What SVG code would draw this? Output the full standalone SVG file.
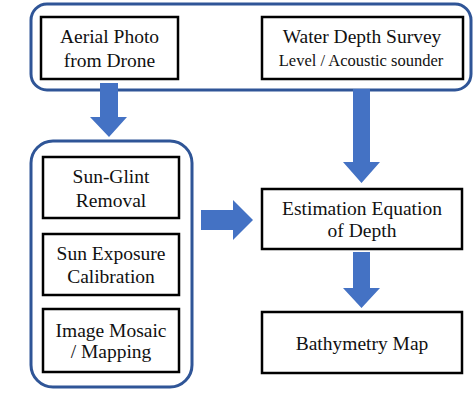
<svg xmlns="http://www.w3.org/2000/svg" width="474" height="410" viewBox="0 0 474 410">
<style>
.frame{fill:none;stroke:#2F5597;stroke-width:3}
.box{fill:#fff;stroke:#000;stroke-width:2.5}
.arrow{fill:#4472C4}
.small{font-size:16.5px}
</style>
<rect width="474" height="410" fill="#fff"/>
<g id="inputs-frame"><rect class="frame" x="31" y="4" width="440" height="86" rx="16"/></g>
<g id="processing-frame"><rect class="frame" x="31" y="141" width="161" height="246" rx="22"/></g>
<g id="connectors">
<path class="arrow" d="M100,83 H118 V117 H127 L109,137 L90,117 H100 Z"/>
<path class="arrow" d="M353,89 H370 V162 H380 L361.5,183 L343,162 H353 Z"/>
<path class="arrow" d="M201,210 H233 V200 L253,220 L233,240 V230 H201 Z"/>
<path class="arrow" d="M353,252 H370 V288 H380 L361.5,308 L343,288 H353 Z"/>
</g>
<g font-family="Liberation Serif, Times New Roman, Tinos, DejaVu Serif, serif" font-size="19.5" fill="#111" text-anchor="middle">
<g id="aerial"><rect class="box" x="41" y="17" width="137" height="62"/><text x="109.5" y="43">Aerial Photo</text><text x="109.5" y="67">from Drone</text></g>
<g id="survey"><rect class="box" x="262" y="17" width="201" height="62"/><text x="362" y="43">Water Depth Survey</text><text class="small" x="361" y="66">Level / Acoustic sounder</text></g>
<g id="sunglint"><rect class="box" x="43" y="157" width="136" height="61"/><text x="111" y="183">Sun-Glint</text><text x="111" y="207">Removal</text></g>
<g id="exposure"><rect class="box" x="43" y="234" width="136" height="61"/><text x="111" y="260">Sun Exposure</text><text x="111" y="283">Calibration</text></g>
<g id="mosaic"><rect class="box" x="43" y="309" width="136" height="63"/><text x="111" y="337">Image Mosaic</text><text x="111" y="358">/ Mapping</text></g>
<g id="estimation"><rect class="box" x="262" y="189" width="200" height="60"/><text x="362" y="215">Estimation Equation</text><text x="362" y="237">of Depth</text></g>
<g id="bathymetry"><rect class="box" x="262" y="312" width="200" height="61"/><text x="362" y="350">Bathymetry Map</text></g>
</g>
</svg>
